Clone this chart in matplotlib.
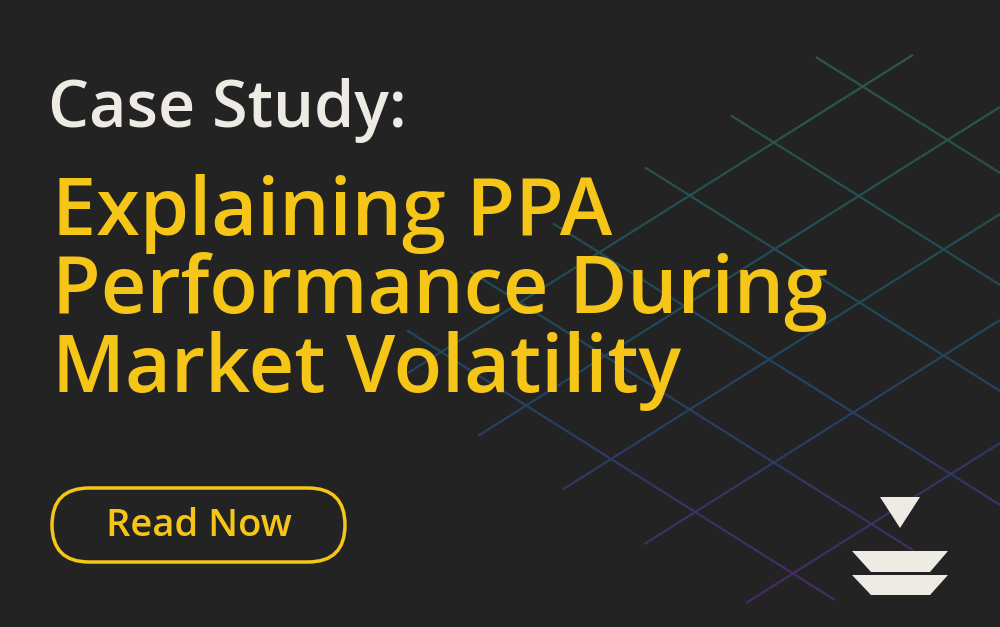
import numpy as np
import matplotlib
matplotlib.use("Agg")
import matplotlib.pyplot as plt
from matplotlib.collections import LineCollection
from matplotlib.colors import LinearSegmentedColormap
from matplotlib.patches import FancyBboxPatch, Polygon

# Decorative grid: two families of lines y = +/-slope*x + intercept (pixel coords, y down)
slope = 0.63
down_intercepts = [-457, -345, -239, -125, -25, 74]
down_x_start = [816, 731, 645, 553, 470, 407]
down_x_end = [1000, 1000, 1000, 1000, 913, 835]
up_intercepts = [630, 737, 844, 950, 1073]
up_x_start = [408, 478, 563, 644, 746]
up_x_end = [913, 1000, 1000, 1000, 1000]

title_small = "Case Study:"
title_lines = ["Explaining PPA", "Performance During", "Market Volatility"]
button_text = "Read Now"

BG = "#232323"
YELLOW = "#f5c518"
WHITE = "#eeeae4"

fig = plt.figure(figsize=(10, 6.27), dpi=100)
fig.patch.set_facecolor(BG)
ax = fig.add_axes([0, 0, 1, 1])
ax.set_facecolor(BG)
ax.set_xlim(0, 1000)
ax.set_ylim(627, 0)
ax.axis("off")

cmap = LinearSegmentedColormap.from_list(
    "g", [(0, "#2f5a48"), (0.45, "#1f4b5a"), (0.72, "#2c3b66"), (1, "#4a2a68")])

def add_line(sign, c, x0, x1):
    xs = np.linspace(x0, x1, 80)
    ys = sign * slope * xs + c
    pts = np.column_stack([xs, ys]).reshape(-1, 1, 2)
    segs = np.concatenate([pts[:-1], pts[1:]], axis=1)
    ymid = (ys[:-1] + ys[1:]) / 2
    cols = cmap(np.clip((ymid - 50) / 560, 0, 1))
    ax.add_collection(LineCollection(segs, colors=cols, linewidths=1.6, zorder=1))

for c, a, b in zip(down_intercepts, down_x_start, down_x_end):
    add_line(1, c, a, b)
for c, a, b in zip(up_intercepts, up_x_start, up_x_end):
    add_line(-1, c, a, b)

font = "Open Sans"
ax.text(48, 127, title_small, color=WHITE, fontsize=46.5, family=font,
        fontweight="semibold", va="baseline", ha="left", zorder=3)
for i, line in enumerate(title_lines):
    ax.text(52, 235 + i * 78.5, line, color=YELLOW, fontsize=57, family=font,
            fontweight="semibold", va="baseline", ha="left", zorder=3)

ax.add_patch(FancyBboxPatch((52, 488), 293, 74, boxstyle="round,pad=0,rounding_size=37",
                            facecolor="none", edgecolor=YELLOW, linewidth=2.5, zorder=3))
ax.text(199, 526, button_text, color=YELLOW, fontsize=27.5, family=font,
        fontweight="semibold", va="center", ha="center", zorder=3)

ax.add_patch(Polygon([(880, 497), (920, 497), (900, 528)], closed=True,
                     facecolor=WHITE, edgecolor="none", zorder=3))
ax.add_patch(Polygon([(852, 551), (948, 551), (930, 572), (871, 572)], closed=True,
                     facecolor=WHITE, edgecolor="none", zorder=3))
ax.add_patch(Polygon([(852, 575), (948, 575), (930, 595), (871, 595)], closed=True,
                     facecolor=WHITE, edgecolor="none", zorder=3))

fig.savefig("out.png", dpi=100, facecolor=BG)
